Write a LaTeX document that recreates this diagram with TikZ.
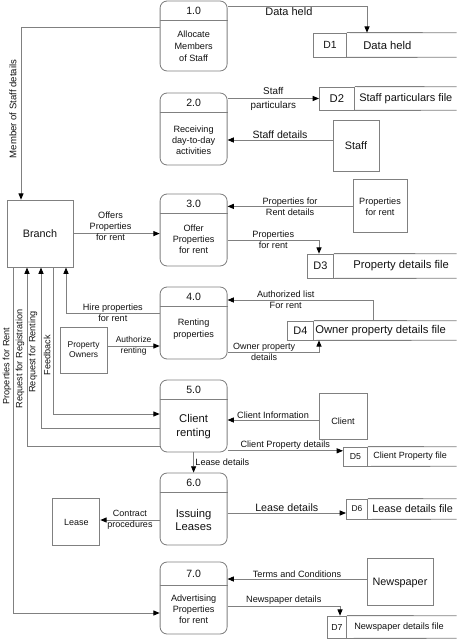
\documentclass[tikz,border=0pt]{standalone}
\usepackage{fontspec}
\setmainfont{Liberation Sans}
\usetikzlibrary{arrows.meta,positioning,calc}
\definecolor{dfdgray}{HTML}{808080}
\definecolor{dfdink}{HTML}{111111}
\newcommand{\fsz}[2]{\fontsize{#1}{#2}\selectfont}

\begin{document}
\begin{tikzpicture}[
    proc/.style={rectangle, rounded corners=5pt, draw=dfdgray, line width=0.6pt,
                 minimum width=1.675cm, minimum height=1.8cm, inner sep=0pt},
    ent/.style={rectangle, draw=dfdgray, line width=0.6pt, inner sep=1pt, align=center},
    store/.style={rectangle, anchor=west, inner sep=0pt},
    storeid/.style={rectangle, draw=dfdgray, line width=0.6pt, anchor=west, inner sep=0pt},
    storename/.style={anchor=west, inner sep=0pt},
    flow/.style={draw=dfdgray, line width=0.6pt,
                 -{Stealth[length=4.5pt, width=3.6pt, inset=0pt, color=black]}},
    lbl/.style={font=\fsz{6.5}{8}, align=center, inner sep=1pt},
    vlbl/.style={font=\fsz{6.5}{8}, rotate=90, inner sep=0pt},
    every node/.style={text=dfdink}
  ]

  \useasboundingbox (0,0) rectangle (11.5,-16);

  % ============ PROCESSES ============
  \node[proc, minimum height=1.75cm] (P1) at (4.84,-0.9) {};
  \node[proc] (P2) at (4.84,-3.225) {};
  \node[proc] (P3) at (4.84,-5.75) {};
  \node[proc] (P4) at (4.84,-8.075) {};
  \node[proc] (P5) at (4.84,-10.4) {};
  \node[proc] (P6) at (4.84,-12.725) {};
  \node[proc] (P7) at (4.84,-14.95) {};

  % number bar on top of each process
  \foreach \p/\num/\dv in {P1/1.0/0.5, P2/2.0/0.5, P3/3.0/0.5, P4/4.0/0.5,
                           P5/5.0/0.5, P6/6.0/0.5, P7/7.0/0.6} {
    \draw[dfdgray, line width=0.6pt] ($(\p.north west)+(0,-\dv)$) -- ($(\p.north east)+(0,-\dv)$);
    \node[font=\fsz{7.5}{9}] (\p-no) at ($(\p.north)+(0,-\dv/2)$) {\num};
  }

  \node[font=\fsz{6.5}{8.2}, align=center] (P1-name) at ($(P1.south)+(0,0.63)$) {Allocate\\Members\\of Staff};
  \node[font=\fsz{6.5}{7.9}, align=center] (P2-name) at ($(P2.south)+(0,0.625)$) {Receiving\\day-to-day\\activities};
  \node[font=\fsz{6.5}{7.9}, align=center] (P3-name) at ($(P3.south)+(0,0.675)$) {Offer\\Properties\\for rent};
  \node[font=\fsz{6.5}{8.5}, align=center] (P4-name) at ($(P4.south)+(0,0.75)$) {Renting\\properties};
  \node[font=\fsz{8}{10}, align=center] (P5-name) at ($(P5.south)+(0,0.65)$) {Client\\renting};
  \node[font=\fsz{8}{9.3}, align=center] (P6-name) at ($(P6.south)+(0,0.64)$) {Issuing\\Leases};
  \node[font=\fsz{6.5}{7.9}, align=center] (P7-name) at ($(P7.south)+(0,0.625)$) {Advertising\\Properties\\for rent};

  % ============ EXTERNAL ENTITIES ============
  \node[ent, minimum width=1.65cm, minimum height=1.675cm, font=\fsz{7.7}{9}] (Branch) at (1.0,-5.84) {Branch};
  \node[ent, minimum width=1.15cm, minimum height=1.275cm, font=\fsz{7.7}{9}] (Staff) at (8.9,-3.65) {Staff};
  \node[ent, minimum width=1.35cm, minimum height=1.325cm, font=\fsz{6.5}{7.8}] (RentSrc) at (9.5,-5.16) {Properties\\for rent};
  \node[ent, minimum width=1.175cm, minimum height=1.15cm, font=\fsz{6}{7.2}] (Owners) at (2.09,-8.75) {Property\\Owners};
  \node[ent, minimum width=1.2cm, minimum height=1.15cm, font=\fsz{6.5}{8},
        text height=0.42cm, text depth=0pt] (Client) at (8.575,-10.4) {Client};
  \node[ent, minimum width=1.175cm, minimum height=1.175cm, font=\fsz{6.4}{8}] (Lease) at (1.91,-13.06) {Lease};
  \node[ent, minimum width=1.65cm, minimum height=1.175cm, font=\fsz{7.7}{9}] (News) at (10.0,-14.56) {Newspaper};

  % ============ DATA STORES ============
  % D1
  \node[store, minimum width=3.575cm, minimum height=0.6cm] (D1) at (7.825,-1.125) {};
  \node[storeid, minimum width=0.825cm, minimum height=0.6cm, font=\fsz{7.4}{9}] (D1-id) at (D1.west) {D1};
  \node[storename, font=\fsz{8}{9}] (D1-name) at (9.075,-1.125) {Data held};
  % D2
  \node[store, minimum width=3.425cm, minimum height=0.575cm] (D2) at (7.975,-2.4625) {};
  \node[storeid, minimum width=0.875cm, minimum height=0.575cm, font=\fsz{8}{9}] (D2-id) at (D2.west) {D2};
  \node[storename, font=\fsz{7.8}{9}] (D2-name) at (8.975,-2.4625) {Staff particulars file};
  % D3
  \node[store, minimum width=3.725cm, minimum height=0.6cm] (D3) at (7.675,-6.65) {};
  \node[storeid, minimum width=0.65cm, minimum height=0.6cm, font=\fsz{7.8}{9}] (D3-id) at (D3.west) {D3};
  \node[storename, font=\fsz{8}{9}] (D3-name) at (8.825,-6.65) {Property details file};
  % D4
  \node[store, minimum width=4.225cm, minimum height=0.475cm] (D4) at (7.175,-8.2625) {};
  \node[storeid, minimum width=0.65cm, minimum height=0.475cm, font=\fsz{7.8}{9}] (D4-id) at (D4.west) {D4};
  \node[storename, font=\fsz{8}{9}] (D4-name) at (7.875,-8.2625) {Owner property details file};
  % D5
  \node[store, minimum width=2.825cm, minimum height=0.475cm] (D5) at (8.575,-11.4125) {};
  \node[storeid, minimum width=0.6cm, minimum height=0.475cm, font=\fsz{6.2}{8}] (D5-id) at (D5.west) {D5};
  \node[storename, font=\fsz{6.4}{8}] (D5-name) at (9.325,-11.4125) {Client Property file};
  % D6
  \node[store, minimum width=2.75cm, minimum height=0.5cm] (D6) at (8.65,-12.725) {};
  \node[storeid, minimum width=0.525cm, minimum height=0.5cm, font=\fsz{6}{8}] (D6-id) at (D6.west) {D6};
  \node[storename, font=\fsz{7.7}{9}] (D6-name) at (9.3,-12.725) {Lease details file};
  % D7
  \node[store, minimum width=3.225cm, minimum height=0.55cm] (D7) at (8.175,-15.675) {};
  \node[storeid, minimum width=0.475cm, minimum height=0.55cm, font=\fsz{6.2}{8}] (D7-id) at (D7.west) {D7};
  \node[storename, font=\fsz{6.5}{8}] (D7-name) at (8.85,-15.675) {Newspaper details file};

  % open-ended store outlines
  \foreach \d in {D1,D2,D3,D4,D5,D6,D7}
    \draw[dfdgray, line width=0.6pt] (\d-id.north east) -- (\d.north east)
                                     (\d-id.south east) -- (\d.south east);

  % ============ DATA FLOWS ============

  % 1.0
  \draw[flow] (P1.east |- 0,-0.15) -| (D1.north -| 9.175,0)
    node[pos=0.22, below, font=\fsz{7.8}{9}, inner sep=1pt] (lDataHeld) {Data held};
  \draw[flow] (P1.west |- 0,-0.675) -| (Branch.north -| 0.525,0);
  \node[vlbl, font=\fsz{6.8}{8}] (lMember) at (0.325,-2.725) {Member of Staff details};

  % 2.0
  \draw[flow] (P2.east |- D2.west) -- (D2.west)
    node[midway, lbl, font=\fsz{7}{10}] (lStaffPart) {Staff\\particulars};
  \draw[flow] (Staff.west |- 0,-3.5) -- (P2.east |- 0,-3.5)
    node[midway, above, inner sep=1pt, font=\fsz{7.5}{9}] (lStaffDet) {Staff details};

  % 3.0
  \draw[flow] (Branch.east) -- (Branch.east -| P3.west)
    node[midway, lbl, yshift=0.18cm, xshift=-0.15cm] (lOffers) {Offers\\Properties\\for rent};
  \draw[flow] (RentSrc.west) -- (RentSrc.west -| P3.east)
    node[midway, lbl] (lRentDet) {Properties for\\Rent details};
  \draw[flow] (P3.east |- 0,-6.0) -| (D3.north -| 7.975,0)
    node[pos=0.25, lbl] (lRentD3) {Properties\\for rent};

  % 4.0
  \draw[flow] (P4.west |- 0,-7.825) -| (Branch.south -| 1.65,0)
    node[pos=0.25, lbl] (lHire) {Hire properties\\for rent};
  \draw[flow] (D4.north -| 9.325,0) |- (P4.east |- 0,-7.5)
    node[pos=0.8, lbl] (lAuth) {Authorized list\\For rent};
  \draw[flow] (P4.east |- 0,-8.8) -| (D4.south -| 7.975,0)
    node[pos=0.2, lbl, font=\fsz{6.4}{8}] (lOwnerDet) {Owner property\\details};
  \draw[flow] (Owners.east |- 0,-8.65) -- (P4.west |- 0,-8.65)
    node[midway, lbl, font=\fsz{6}{7.5}] (lAuthRent) {Authorize\\renting};

  % 5.0 and the branch returns
  \draw[flow] (Branch.south -| 1.325,0) |- (P5.west |- 0,-10.35);
  \node[vlbl] (lFeedback) at (1.175,-8.875) {Feedback};
  \draw[flow] (P5.west |- 0,-10.7) -| (Branch.south -| 1.025,0);
  \node[vlbl] (lReqRent) at (0.825,-8.8) {Request for Renting};
  \draw[flow] (P5.west |- 0,-11.15) -| (Branch.south -| 0.675,0);
  \node[vlbl] (lReqReg) at (0.5,-8.975) {Request for Registration};
  \draw[flow] (Branch.south -| 0.325,0) |- (P7.west |- 0,-15.325);
  \node[vlbl] (lPropRent) at (0.175,-9.15) {Properties for Rent};

  \draw[flow] (Client.west |- 0,-10.5) -- (P5.east |- 0,-10.5)
    node[midway, above, lbl] (lClientInfo) {Client Information};
  \draw[flow] (P5.east |- 0,-11.27) -- (D5.west |- 0,-11.27)
    node[midway, above, lbl] (lClientProp) {Client Property details};
  \draw[flow] (P5.south) -- (P6.north)
    node[midway, right, lbl] (lLeaseDet) {Lease details};

  % 6.0
  \draw[flow] (P6.east |- 0,-12.825) -- (D6.west |- 0,-12.825)
    node[midway, above, inner sep=1pt, font=\fsz{7.6}{9}] (lLeaseD6) {Lease details};
  \draw[flow] (P6.west |- 0,-13.0) -- (Lease.east |- 0,-13.0)
    node[midway, lbl, font=\fsz{6.4}{8}] (lContract) {Contract\\procedures};

  % 7.0
  \draw[flow] (News.west |- 0,-14.475) -- (P7.east |- 0,-14.475)
    node[midway, above, lbl] (lTerms) {Terms and Conditions};
  \draw[flow] (P7.east |- 0,-15.15) -| (D7.north -| 8.5,0)
    node[pos=0.25, above, lbl] (lNewsDet) {Newspaper details};

\end{tikzpicture}
\end{document}
